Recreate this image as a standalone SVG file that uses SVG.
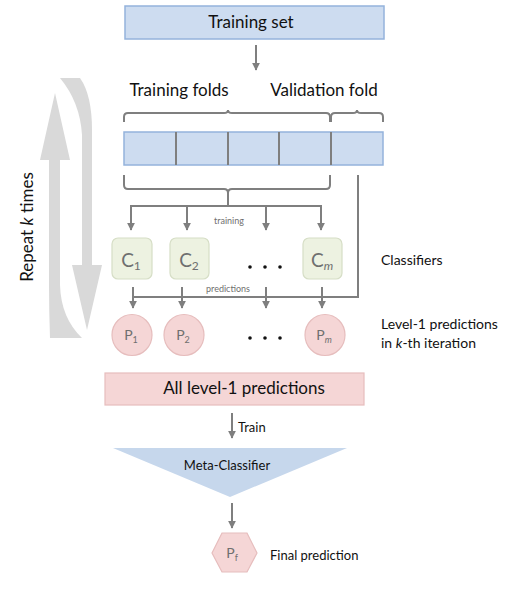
<svg xmlns="http://www.w3.org/2000/svg" width="508" height="594" viewBox="0 0 508 594">
<style>
.t{font-family:Lato,"Liberation Sans",sans-serif;fill:#111}
.g{font-family:Lato,"Liberation Sans",sans-serif;fill:#6f6f6f}
.ln{stroke:#7f7f7f;stroke-width:2;fill:none}
.ar{stroke:#7f7f7f;stroke-width:2;fill:none;marker-end:url(#ah)}
.blue{fill:#cddcf0;stroke:#94b3dc;stroke-width:1.5}
.cbox{fill:#edf2e1;stroke:#d6dec6;stroke-width:1.2}
.pc{fill:#f5d6d6;stroke:#e6bdbd;stroke-width:1.2}
.loop{fill:#d9d9d9}
.dot{fill:#111}
</style>
<defs>
<marker id="ah" viewBox="0 0 10 10" refX="9" refY="5" markerWidth="4" markerHeight="4" orient="auto" markerUnits="strokeWidth">
<path d="M0,0 L10,5 L0,10 Z" fill="#7f7f7f"/>
</marker>
</defs>

<g id="loop">
<path class="loop" d="M50 338 Q49 310 49 285 L49 160 L40 160 L55 93 L70 160 L60 160 L60 285 Q61 318 82 338 Z"/>
<path class="loop" d="M60 78 L80 78 Q92 95 92 130 L92 265 L102 265 L87 330 L72 265 L82 265 L82 135 Q80 102 60 78 Z"/>
<text class="t" font-size="17" text-anchor="middle" transform="translate(33,227) rotate(-90)">Repeat <tspan font-style="italic">k</tspan> times</text>
</g>

<g id="training-set">
<rect class="blue" x="125" y="6" width="259" height="33"/>
<text class="t" x="251" y="28" font-size="17" text-anchor="middle">Training set</text>
</g>

<g id="folds">
<rect class="blue" x="124" y="132" width="259" height="33"/>
<line class="ln" x1="176" y1="132" x2="176" y2="165"/>
<line class="ln" x1="228" y1="132" x2="228" y2="165"/>
<line class="ln" x1="279" y1="132" x2="279" y2="165"/>
<line class="ln" x1="331" y1="132" x2="331" y2="165"/>
<text class="t" x="179" y="96" font-size="17" text-anchor="middle">Training folds</text>
<text class="t" x="324" y="96" font-size="17" text-anchor="middle">Validation fold</text>
<path class="ln" d="M124 122 L124 117 Q124 113 128 113 L224 113 Q228 113 228 110 Q228 113 232 113 L326 113 Q330 113 330 117 L330 122"/>
<path class="ln" d="M331 122 L331 117 Q331 113 335 113 L353 113 Q357 113 357 110 Q357 113 361 113 L379 113 Q383 113 383 117 L383 122"/>
<path class="ln" d="M124 175 L124 185 Q124 189 128 189 L224 189 Q228 189 228 193 Q228 189 232 189 L326 189 Q330 189 330 185 L330 175"/>
</g>

<g id="connectors">
<line class="ar" x1="256" y1="45" x2="256" y2="70"/>
<line class="ln" x1="228" y1="191" x2="228" y2="206"/>
<line class="ln" x1="131" y1="206" x2="321" y2="206"/>
<line class="ar" x1="131" y1="205" x2="131" y2="230"/>
<line class="ar" x1="187" y1="205" x2="187" y2="230"/>
<line class="ar" x1="266" y1="205" x2="266" y2="230"/>
<line class="ar" x1="321" y1="205" x2="321" y2="230"/>
<path class="ln" d="M358 175 L358 297 L133 297"/>
<line class="ar" x1="133" y1="287" x2="133" y2="308"/>
<line class="ar" x1="182" y1="287" x2="182" y2="308"/>
<line class="ar" x1="266" y1="287" x2="266" y2="308"/>
<line class="ar" x1="322" y1="287" x2="322" y2="308"/>
<line class="ar" x1="232" y1="413" x2="232" y2="438"/>
<line class="ar" x1="232" y1="503" x2="232" y2="528"/>
<text class="g" x="229" y="224" font-size="9" text-anchor="middle">training</text>
<text class="g" x="228" y="292" font-size="9" text-anchor="middle">predictions</text>
<text class="t" x="238" y="432" font-size="13">Train</text>
</g>

<g id="c1">
<rect class="cbox" x="112" y="238" width="40" height="41" rx="6"/>
<text class="g" x="131" y="267" font-size="19" text-anchor="middle">C<tspan font-size="12" dy="3">1</tspan></text>
</g>
<g id="c2">
<rect class="cbox" x="170" y="238" width="39" height="41" rx="6"/>
<text class="g" x="189" y="267" font-size="19" text-anchor="middle">C<tspan font-size="12" dy="3">2</tspan></text>
</g>
<g id="cdots">
<circle class="dot" cx="250" cy="267" r="1.8"/>
<circle class="dot" cx="265" cy="267" r="1.8"/>
<circle class="dot" cx="280" cy="267" r="1.8"/>
</g>
<g id="cm">
<rect class="cbox" x="303" y="238" width="39" height="41" rx="6"/>
<text class="g" x="322" y="267" font-size="19" text-anchor="middle">C<tspan font-size="12" dy="3" font-style="italic">m</tspan></text>
</g>
<g id="classifiers-label">
<text class="t" x="381" y="265" font-size="14">Classifiers</text>
</g>

<g id="p1">
<ellipse class="pc" cx="132" cy="335" rx="20" ry="20.5"/>
<text class="g" x="131" y="340" font-size="14" text-anchor="middle">P<tspan font-size="9" dy="3">1</tspan></text>
</g>
<g id="p2">
<ellipse class="pc" cx="184" cy="335" rx="20" ry="20.5"/>
<text class="g" x="183" y="340" font-size="14" text-anchor="middle">P<tspan font-size="9" dy="3">2</tspan></text>
</g>
<g id="pdots">
<circle class="dot" cx="250" cy="338" r="1.8"/>
<circle class="dot" cx="265" cy="338" r="1.8"/>
<circle class="dot" cx="280" cy="338" r="1.8"/>
</g>
<g id="pm">
<ellipse class="pc" cx="325" cy="335" rx="20" ry="20.5"/>
<text class="g" x="324" y="340" font-size="14" text-anchor="middle">P<tspan font-size="9" dy="3" font-style="italic">m</tspan></text>
</g>
<g id="level1-label">
<text class="t" x="381" y="329" font-size="14">Level-1 predictions</text>
<text class="t" x="381" y="348" font-size="14">in <tspan font-style="italic">k</tspan>-th iteration</text>
</g>

<g id="all-level1">
<rect class="pc" x="105" y="373" width="259" height="32"/>
<text class="t" x="244" y="394" font-size="17" text-anchor="middle">All level-1 predictions</text>
</g>

<g id="meta-classifier">
<polygon points="113,448 347,448 230,497" fill="#c6d7ec"/>
<text class="t" x="227" y="470" font-size="13" text-anchor="middle">Meta-Classifier</text>
</g>

<g id="pf">
<polygon class="pc" points="212,553 222,533 247,533 257,553 247,572 222,572"/>
<text class="g" x="232" y="558" font-size="14" text-anchor="middle">P<tspan font-size="9" dy="3">f</tspan></text>
<text class="t" x="270" y="560" font-size="13">Final prediction</text>
</g>
</svg>
